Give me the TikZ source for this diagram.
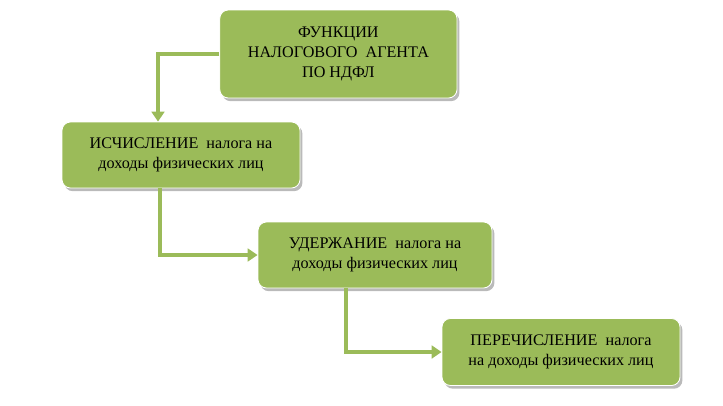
\documentclass[tikz,border=0pt]{standalone}
\usepackage{fontspec}
\setmainfont{Liberation Serif}
\usetikzlibrary{shadows,arrows.meta}
\definecolor{boxgreen}{HTML}{9BBB59}
\tikzset{
  fbox/.style={rectangle, rounded corners=6pt, fill=boxgreen, draw=white, line width=0.6pt,
    drop shadow={shadow xshift=0.6mm, shadow yshift=-0.8mm, opacity=0.45, fill=black!60},
    align=center, font=\fontsize{11.5}{14}\selectfont, inner sep=2pt},
  flink/.style={draw=boxgreen, line width=2.2pt, -{Triangle[length=7pt,width=9pt]}}
}
\begin{document}
\begin{tikzpicture}
        \useasboundingbox (0,0) rectangle (18.075,-10.125);

        \node[fbox, minimum width=5.93cm, minimum height=2.2cm] (funk) at (8.46, -1.35)
            {ФУНКЦИИ\\НАЛОГОВОГО\ \ АГЕНТА\\ПО НДФЛ};
        \node[fbox, minimum width=5.95cm, minimum height=1.65cm] (ischisl) at (4.525, -3.875)
            {ИСЧИСЛЕНИЕ\ \ налога на\\доходы физических лиц};
        \node[fbox, minimum width=5.85cm, minimum height=1.65cm] (uderzh) at (9.375, -6.375)
            {УДЕРЖАНИЕ\ \ налога на\\доходы физических лиц};
        \node[fbox, minimum width=5.95cm, minimum height=1.675cm] (perech) at (14.025, -8.8)
            {ПЕРЕЧИСЛЕНИЕ\ \ налога\\на доходы физических лиц};

        \coordinate (bend) at (3.95, -1.35);
        \draw[flink] (funk.west) -- (bend) -- (bend |- ischisl.north);
        \draw[flink] ([xshift=-0.525cm]ischisl.south) |- (uderzh.west);
        \draw[flink] ([xshift=-0.725cm]uderzh.south) |- (perech.west);
\end{tikzpicture}
\end{document}
